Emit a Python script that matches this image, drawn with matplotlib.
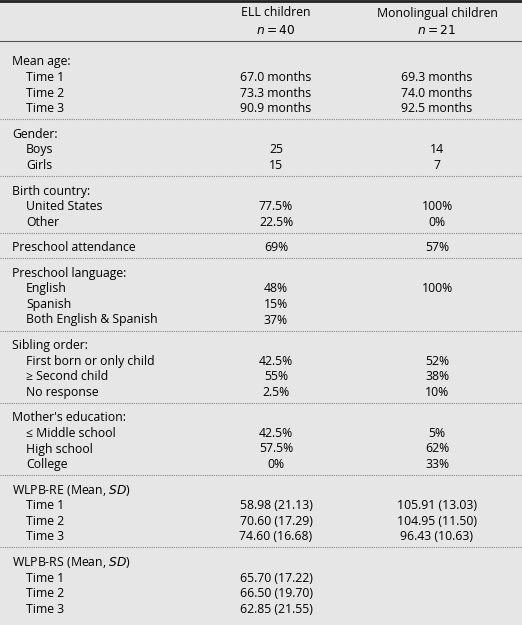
import matplotlib.pyplot as plt

# table content
sections = ["Mean age:", "Gender:", "Birth country:", "Preschool attendance",
            "Preschool language:", "Sibling order:", "Mother's education:",
            "WLPB-RE (Mean, $SD$)", "WLPB-RS (Mean, $SD$)"]
sub_labels = [
    ["Time 1", "Time 2", "Time 3"],
    ["Boys", "Girls"],
    ["United States", "Other"],
    [],
    ["English", "Spanish", "Both English & Spanish"],
    ["First born or only child", "≥ Second child", "No response"],
    ["≤ Middle school", "High school", "College"],
    ["Time 1", "Time 2", "Time 3"],
    ["Time 1", "Time 2", "Time 3"],
]
ell_vals = [
    ["67.0 months", "73.3 months", "90.9 months"],
    ["25", "15"],
    ["77.5%", "22.5%"],
    ["69%"],
    ["48%", "15%", "37%"],
    ["42.5%", "55%", "2.5%"],
    ["42.5%", "57.5%", "0%"],
    ["58.98 (21.13)", "70.60 (17.29)", "74.60 (16.68)"],
    ["65.70 (17.22)", "66.50 (19.70)", "62.85 (21.55)"],
]
mono_vals = [
    ["69.3 months", "74.0 months", "92.5 months"],
    ["14", "7"],
    ["100%", "0%"],
    ["57%"],
    ["100%", "", ""],
    ["52%", "38%", "10%"],
    ["5%", "62%", "33%"],
    ["105.91 (13.03)", "104.95 (11.50)", "96.43 (10.63)"],
    ["", "", ""],
]

W, H = 522, 625
fig = plt.figure(figsize=(W / 100, H / 100), dpi=100)
fig.patch.set_facecolor("#e6e6e6")
ax = fig.add_axes([0, 0, 1, 1])
ax.set_xlim(0, W)
ax.set_ylim(H, 0)
ax.axis("off")
ax.set_facecolor("#e6e6e6")

plt.rcParams["font.family"] = ["Open Sans", "DejaVu Sans"]
fs = 8.8
x_lab, x_ind, x_ell, x_mono = 12, 26, 276, 437
step = 15.6

ax.plot([0, W], [1, 1], color="#222222", lw=2.0)
ax.text(x_ell, 13, "ELL children", ha="center", va="center", fontsize=fs)
ax.text(x_ell, 30, "$n = 40$", ha="center", va="center", fontsize=fs)
ax.text(x_mono, 13, "Monolingual children", ha="center", va="center", fontsize=fs)
ax.text(x_mono, 30, "$n = 21$", ha="center", va="center", fontsize=fs)
ax.plot([0, W], [41, 41], color="#555555", lw=0.8)

y = 62
for i, sec in enumerate(sections):
    ax.text(x_lab, y, sec, va="center", fontsize=fs)
    if not sub_labels[i]:
        ax.text(x_ell, y, ell_vals[i][0], ha="center", va="center", fontsize=fs)
        ax.text(x_mono, y, mono_vals[i][0], ha="center", va="center", fontsize=fs)
        last = y
    else:
        for j, lab in enumerate(sub_labels[i]):
            yy = y + step * (j + 1)
            ax.text(x_ind, yy, lab, va="center", fontsize=fs)
            ax.text(x_ell, yy, ell_vals[i][j], ha="center", va="center", fontsize=fs)
            ax.text(x_mono, yy, mono_vals[i][j], ha="center", va="center", fontsize=fs)
            last = yy
    if i < len(sections) - 1:
        sep = last + 10.5
        ax.plot([0, W], [sep, sep], color="#888888", lw=0.8, ls=(0, (1, 1)))
        y = sep + 15

fig.savefig("out.png", dpi=100, facecolor=fig.get_facecolor())
